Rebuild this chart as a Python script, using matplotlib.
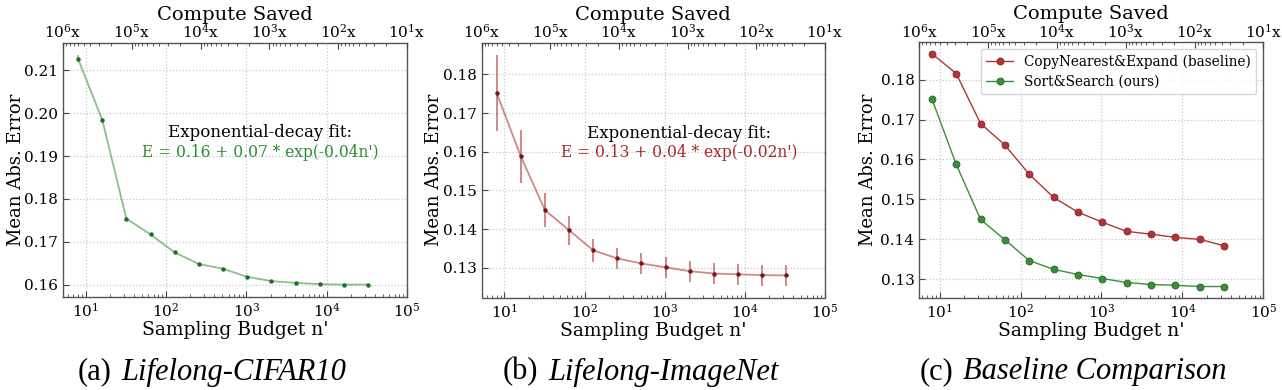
import numpy as np
import matplotlib
matplotlib.use("Agg")
import matplotlib.pyplot as plt
from matplotlib.text import Annotation
from matplotlib.ticker import FixedLocator, FixedFormatter, LogLocator, NullFormatter

plt.rcParams['font.family'] = 'DejaVu Serif'
plt.rcParams['mathtext.fontset'] = 'dejavuserif'

# sampling budgets n'
budget = [8, 16, 32, 64, 128, 256, 512, 1024, 2048, 4096, 8192, 16384, 32768]

# (a) Lifelong-CIFAR10
cifar_mae = [0.2127, 0.1985, 0.1754, 0.1717, 0.1675, 0.1648, 0.1637,
             0.1618, 0.1608, 0.1604, 0.1601, 0.1600, 0.1600]
cifar_err = [0.0008, 0.0004, 0.0003, 0.0002, 0.0002, 0.0002, 0.0002,
             0.0002, 0.0001, 0.0001, 0.0001, 0.0001, 0.0001]

# (b) Lifelong-ImageNet
imnet_mae = [0.1752, 0.1588, 0.1449, 0.1397, 0.1345, 0.1324, 0.1311,
             0.1301, 0.1291, 0.1285, 0.1283, 0.1281, 0.1280]
imnet_err = [0.0099, 0.0069, 0.0043, 0.0037, 0.0030, 0.0028, 0.0028,
             0.0027, 0.0027, 0.0027, 0.0027, 0.0027, 0.0027]

# (c) baseline comparison
baseline_mae = [0.1865, 0.1815, 0.1690, 0.1636, 0.1563, 0.1505, 0.1468,
                0.1443, 0.1420, 0.1413, 0.1405, 0.1400, 0.1384]
ours_mae = [0.1752, 0.1588, 0.1450, 0.1399, 0.1347, 0.1325, 0.1312,
            0.1302, 0.1292, 0.1287, 0.1285, 0.1282, 0.1282]

top_ticks = [1e6, 1e5, 1e4, 1e3, 1e2, 1e1]
top_labels = [r'$10^{6}$x', r'$10^{5}$x', r'$10^{4}$x', r'$10^{3}$x', r'$10^{2}$x', r'$10^{1}$x']

captions = [("(a)", "Lifelong-CIFAR10"),
            ("(b)", "Lifelong-ImageNet"),
            ("(c)", "Baseline Comparison")]

W, H = 1282, 390
GREEN = '#2e8b2e'
RED = '#a52a2a'


def style_axes(ax, yticks, xmin, ylab_x):
    ax.set_xscale('log')
    ax.set_xlim(xmin, 1e5)
    ax.set_yticks(yticks)
    ax.set_yticklabels(['%.2f' % v for v in yticks])
    ax.tick_params(axis='both', which='both', direction='in', labelsize=11, color='#444444')
    ax.tick_params(axis='x', which='major', length=4)
    ax.tick_params(axis='y', which='major', length=4)
    ax.tick_params(axis='x', which='minor', length=2)
    ax.xaxis.set_major_locator(LogLocator(base=10, numticks=10))
    ax.grid(True, which='major', linestyle=':', color='#c8c8c8', linewidth=0.9)
    for s in ax.spines.values():
        s.set_color('#555555')
        s.set_linewidth(1.0)
    ax.set_xlabel("Sampling Budget n'", fontsize=13.5, labelpad=1)
    ax.set_ylabel("Mean Abs. Error", fontsize=13)
    ax.yaxis.set_label_coords(ylab_x, 0.5)

    # top axis: compute saved
    top = ax.twiny()
    top.set_xscale('log')
    top.set_xlim(1e6, 1e1)
    top.xaxis.set_major_locator(FixedLocator(top_ticks))
    top.xaxis.set_major_formatter(FixedFormatter(top_labels))
    top.xaxis.set_minor_locator(LogLocator(base=10, subs=np.arange(2, 10), numticks=10))
    top.xaxis.set_minor_formatter(NullFormatter())
    top.tick_params(axis='x', which='both', direction='in', labelsize=11, color='#444444', pad=1.5)
    top.tick_params(axis='x', which='major', length=4)
    top.tick_params(axis='x', which='minor', length=2)
    top.set_xlabel("Compute Saved", fontsize=14, labelpad=2.5)
    for s in top.spines.values():
        s.set_visible(False)
    return top


fig = plt.figure(figsize=(W / 100, H / 100), dpi=100)

ax1 = fig.add_axes([63 / W, 1 - 297 / H, 344 / W, 254 / H])
ax1.errorbar(budget, cifar_mae, yerr=cifar_err, color=GREEN, alpha=0.55, lw=1.3,
             elinewidth=1.2, capsize=0, zorder=3)
ax1.plot(budget, cifar_mae, 'o', ms=2.2, color='#1f6f1f', zorder=4)
ax1.set_ylim(0.1571, 0.2164)
style_axes(ax1, [0.16, 0.17, 0.18, 0.19, 0.20, 0.21], 5.2, -0.110)
ax1.text(0.573, 0.646, "Exponential-decay fit:", transform=ax1.transAxes,
         ha='center', va='center', fontsize=12)
ax1.text(0.573, 0.567, "E = 0.16 + 0.07 * exp(-0.04n')", transform=ax1.transAxes,
         ha='center', va='center', fontsize=11.2, color=GREEN)

ax2 = fig.add_axes([481.7 / W, 1 - 297.5 / H, 343.3 / W, 254.5 / H])
ax2.errorbar(budget, imnet_mae, yerr=imnet_err, color=RED, alpha=0.55, lw=1.3,
             elinewidth=1.4, capsize=0, zorder=3)
ax2.plot(budget, imnet_mae, 'o', ms=2.2, color='#7a1515', zorder=4)
ax2.set_ylim(0.1223, 0.1881)
style_axes(ax2, [0.13, 0.14, 0.15, 0.16, 0.17, 0.18], 5.2, -0.113)
ax2.text(0.574, 0.646, "Exponential-decay fit:", transform=ax2.transAxes,
         ha='center', va='center', fontsize=12)
ax2.text(0.574, 0.570, "E = 0.13 + 0.04 * exp(-0.02n')", transform=ax2.transAxes,
         ha='center', va='center', fontsize=11.2, color=RED)

ax3 = fig.add_axes([919.3 / W, 1 - 297.7 / H, 344 / W, 255.3 / H])
ax3.plot(budget, baseline_mae, '-o', color='#b03535', ms=5, lw=1.0,
         mec='#8a2020', mew=0.6, label='CopyNearest&Expand (baseline)', zorder=3)
ax3.plot(budget, ours_mae, '-o', color='#3a8f3a', ms=5, lw=1.0,
         mec='#226622', mew=0.6, label='Sort&Search (ours)', zorder=3)
ax3.set_ylim(0.1254, 0.1893)
style_axes(ax3, [0.13, 0.14, 0.15, 0.16, 0.17, 0.18], 5.6, -0.123)
leg = ax3.legend(loc='upper right', fontsize=9.8, frameon=True, fancybox=True,
                 borderpad=0.4, handlelength=2.0, labelspacing=0.4)
leg.get_frame().set_edgecolor('#cccccc')

# captions: upright tag followed by italic title
for x, (tag, title) in zip([78, 503, 920], captions):
    t = fig.text(x / W, 1 - 372 / H, tag, fontsize=22, family='Liberation Serif',
                 va='center', ha='left')
    fig.add_artist(Annotation(
        title, xy=(1, 0.5), xycoords=t, xytext=(7, 0), textcoords='offset points',
        fontsize=22, family='Liberation Serif', style='italic', va='center', ha='left'))

fig.savefig('out.png', dpi=100)
